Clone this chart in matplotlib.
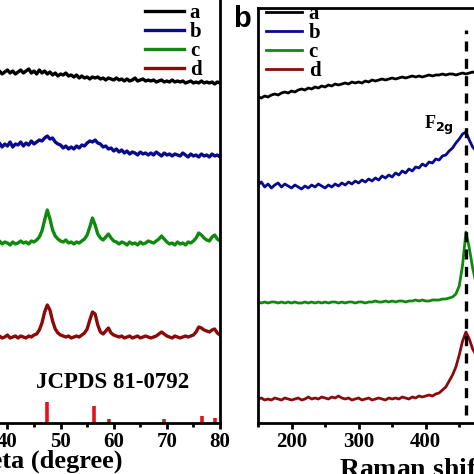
import numpy as np
import matplotlib.pyplot as plt
from matplotlib.ticker import MultipleLocator

# XRD data (a.u.), 2 theta from 38 to 80 in 0.5 deg steps
two_theta = np.arange(38.0, 80.5, 0.5)
xrd_a = [350, 352, 349, 351, 353, 350, 352, 349, 351,
         353, 350, 352, 354, 350, 352, 349, 353, 350, 352,
         349, 351, 348, 350, 347, 349, 348, 350, 347, 348,
         346, 348, 345, 347, 345, 346, 344, 346, 345, 346,
         344, 345, 343, 345, 344, 343, 345, 343, 344, 342,
         344, 342, 343, 345, 342, 343, 344, 342, 343, 342,
         343, 341, 342, 343, 341, 342, 341, 343, 341, 342,
         341, 342, 340, 341, 342, 340, 341, 340, 342, 340,
         341, 340, 341, 339, 341, 340]
xrd_b = [277, 280, 276, 279, 277, 281, 276, 279, 278,
         281, 277, 280, 278, 282, 279, 281, 283, 282, 285,
         287, 284, 285, 281, 279, 278, 275, 277, 274, 276,
         274, 277, 275, 278, 277, 280, 282, 281, 283, 280,
         279, 276, 277, 274, 275, 272, 274, 271, 273, 270,
         272, 269, 271, 270, 268, 271, 269, 270, 268, 270,
         268, 271, 269, 267, 270, 268, 269, 267, 269, 268,
         267, 270, 268, 266, 269, 267, 268, 266, 269, 267,
         268, 266, 269, 267, 268, 266]
xrd_c = [180, 182, 179, 181, 180, 178, 181, 179, 180,
         182, 180, 181, 179, 182, 181, 183, 186, 192, 203,
         213, 204, 193, 187, 184, 182, 181, 183, 180, 181,
         179, 181, 180, 182, 184, 188, 196, 205, 198, 189,
         185, 183, 186, 189, 185, 182, 181, 179, 181, 180,
         178, 181, 179, 180, 178, 181, 179, 180, 182, 181,
         180, 182, 184, 187, 184, 181, 179, 180, 178, 181,
         179, 180, 178, 181, 180, 182, 185, 190, 188, 185,
         183, 182, 186, 188, 184, 182]
xrd_d = [86, 87, 85, 86, 88, 85, 86, 87, 85,
         87, 86, 85, 87, 86, 88, 89, 93, 100, 111,
         118, 113, 102, 94, 90, 88, 87, 86, 87, 85,
         86, 87, 86, 88, 90, 94, 103, 111, 109, 98,
         91, 89, 92, 95, 90, 88, 87, 86, 87, 85,
         86, 87, 85, 86, 87, 85, 86, 87, 86, 85,
         86, 87, 89, 91, 89, 87, 86, 85, 87, 86,
         85, 86, 87, 86, 87, 88, 91, 96, 95, 93,
         92, 91, 93, 94, 90, 88]

# JCPDS 81-0792 reference lines
ref_pos = [47.5, 56.3, 59.1, 69.4, 76.7, 79.1]
ref_int = [21, 17, 4, 4, 7, 5]

# Raman data (a.u.), 150 to 475 cm-1 in 5 cm-1 steps
raman_shift = np.arange(150, 480, 5)
ram_a = [326, 325, 327, 326, 328, 329, 328, 330, 331, 330,
         332, 331, 333, 334, 333, 335, 334, 336, 335, 337,
         336, 338, 337, 339, 338, 339, 340, 339, 341, 340,
         341, 340, 342, 341, 343, 342, 343, 344, 343, 344,
         345, 344, 345, 346, 345, 346, 347, 346, 347, 346,
         347, 348, 347, 348, 348, 349, 348, 349, 349, 348,
         349, 350, 349, 350, 351, 350]
ram_b = [238, 241, 236, 239, 235, 238, 240, 236, 239, 237,
         235, 238, 236, 234, 237, 235, 238, 236, 239, 237,
         235, 238, 236, 239, 237, 240, 238, 241, 239, 242,
         240, 243, 241, 244, 242, 245, 243, 247, 245, 248,
         246, 250, 248, 252, 250, 254, 252, 256, 255, 259,
         257, 261, 260, 264, 263, 267, 268, 272, 275, 280,
         284, 289, 291, 283, 276, 272]
ram_c = [121, 120, 121, 120, 121, 121, 120, 121, 120, 121,
         120, 121, 120, 120, 121, 120, 121, 120, 121, 120,
         121, 120, 121, 121, 120, 121, 120, 121, 121, 120,
         121, 121, 120, 121, 121, 122, 121, 121, 122, 121,
         122, 121, 122, 122, 121, 122, 122, 123, 122, 123,
         122, 122, 123, 123, 123, 124, 124, 125, 126, 129,
         137, 158, 191, 175, 155, 140]
ram_d = [24, 25, 23, 24, 23, 25, 24, 23, 25, 24,
         23, 24, 25, 23, 24, 26, 24, 25, 24, 26,
         25, 24, 26, 25, 27, 25, 24, 25, 23, 24,
         25, 23, 24, 25, 23, 24, 25, 24, 23, 25,
         24, 25, 24, 26, 25, 24, 26, 25, 27, 26,
         27, 28, 27, 29, 30, 33, 36, 42, 48, 56,
         68, 82, 91, 84, 74, 68]

labels = ['a', 'b', 'c', 'd']
colors = ['black', '#0a0a8c', '#0f8a0f', '#8b0a0a']
f2g_pos = 460

plt.rcParams['font.family'] = 'Liberation Serif'
plt.rcParams['font.weight'] = 'bold'
plt.rcParams['axes.linewidth'] = 2.0

fig = plt.figure(figsize=(4.74, 4.74), dpi=100)
W = 474.0

# left panel (XRD), mostly cropped out on the left
ax1 = fig.add_axes([-152 / W, 51 / W, 372 / W, 433 / W])
for y, c, lab in zip([xrd_a, xrd_b, xrd_c, xrd_d], colors, labels):
    ax1.plot(two_theta, y, color=c, lw=2.4, label=lab)
ax1.vlines(ref_pos, 0, ref_int, color='#e8101a', lw=2.6)
ax1.text(59.8, 40, 'JCPDS 81-0792', ha='center', va='center', fontsize=16.5, fontweight='bold')
ax1.set_xlim(10, 80)
ax1.set_ylim(0, 433)
ax1.xaxis.set_major_locator(MultipleLocator(10))
ax1.xaxis.set_minor_locator(MultipleLocator(5))
ax1.set_yticks([])
ax1.set_xlabel('2 Theta (degree)', fontsize=19, fontweight='bold')
ax1.xaxis.set_label_coords(0.49, -0.062)
ax1.legend(loc='upper left', bbox_to_anchor=(145 / W, 1 - 3 / W), bbox_transform=fig.transFigure,
           frameon=False, fontsize=15, handlelength=1.85, handletextpad=0.3, labelspacing=-0.05,
           borderpad=0, borderaxespad=0)

# right panel (Raman), cropped on the right
ax2 = fig.add_axes([258 / W, 51 / W, 436 / W, 415 / W])
for y, c, lab in zip([ram_a, ram_b, ram_c, ram_d], colors, labels):
    ax2.plot(raman_shift, y, color=c, lw=2.0, label=lab)
ax2.vlines(f2g_pos, 8, 393, color='black', lw=2.4, linestyles=(0, (3, 2.2)))
ax2.text(420, 298, r'F$_{\mathbf{2g}}$', ha='center', va='center', fontsize=13, fontweight='bold')
ax2.set_xlim(150, 800)
ax2.set_ylim(0, 415)
ax2.xaxis.set_major_locator(MultipleLocator(100))
ax2.xaxis.set_minor_locator(MultipleLocator(50))
ax2.set_yticks([])
ax2.set_xlabel(r'Raman shift (cm$^{\mathbf{-1}}$)', fontsize=20, fontweight='bold')
ax2.xaxis.set_label_coords(0.46, -0.065)
ax2.legend(loc='upper left', bbox_to_anchor=(266 / W, 1 - 4 / W), bbox_transform=fig.transFigure,
           frameon=False, fontsize=15, handlelength=1.75, handletextpad=0.3, labelspacing=-0.05,
           borderpad=0, borderaxespad=0)

for ax in (ax1, ax2):
    ax.tick_params(axis='x', which='major', direction='out', length=4, width=2, labelsize=15, pad=2.5)
    ax.tick_params(axis='x', which='minor', direction='out', length=3, width=2)
    for t in ax.get_xticklabels():
        t.set_fontweight('bold')

fig.text(233 / W, 1 - 5 / W, 'b', fontsize=21, fontweight='bold', family='Liberation Sans',
         ha='left', va='top')

fig.savefig('out.png', dpi=100)
